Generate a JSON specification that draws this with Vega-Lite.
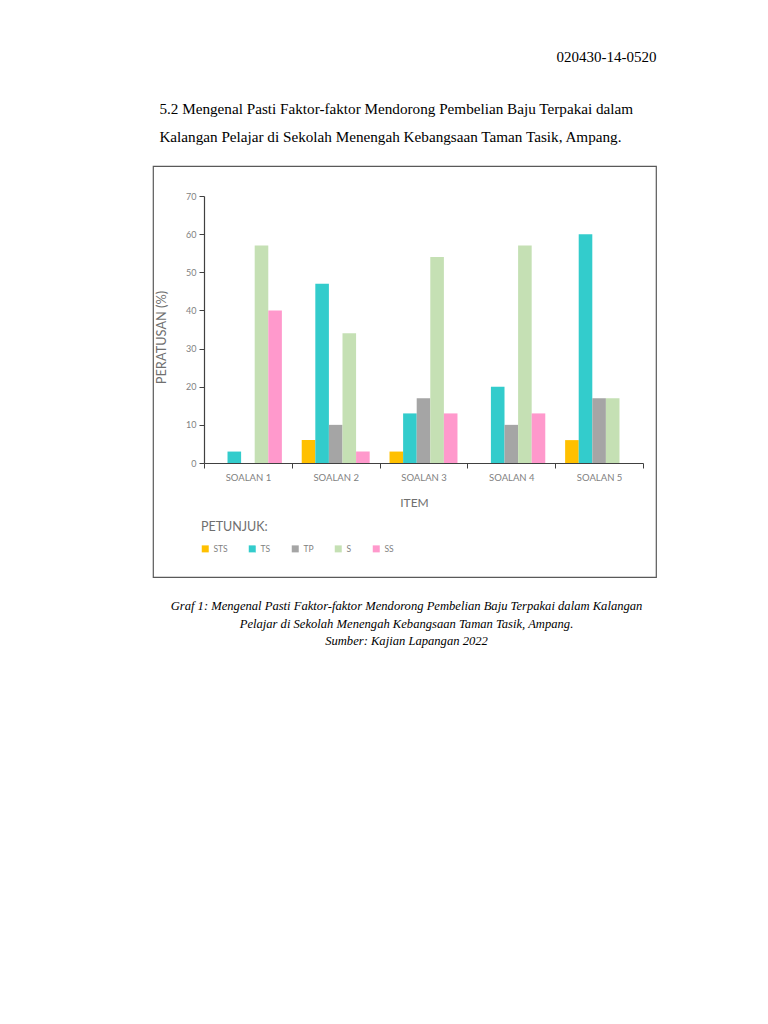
{
  "$schema": "https://vega.github.io/schema/vega-lite/v6.json",
  "background": "white",
  "padding": {"left": 152, "top": 50, "right": 0, "bottom": 0},
  "title": {
    "text": "020430-14-0520",
    "anchor": "end",
    "font": "Liberation Serif",
    "fontSize": 15,
    "fontWeight": "normal",
    "color": "#000000",
    "offset": 37
  },
  "config": {
    "font": "Lato",
    "view": {"stroke": null}
  },
  "vconcat": [
    {
      "title": {
        "text": [
          "5.2 Mengenal Pasti Faktor-faktor Mendorong Pembelian Baju Terpakai dalam",
          "Kalangan Pelajar di Sekolah Menengah Kebangsaan Taman Tasik, Ampang."
        ],
        "anchor": "start",
        "dx": 7,
        "font": "Liberation Serif",
        "fontSize": 15.2,
        "fontWeight": "normal",
        "color": "#000000",
        "lineHeight": 28,
        "offset": 20
      },
      "vconcat": [
        {
          "width": 503,
          "height": 411,
          "view": {"stroke": "#595959", "strokeWidth": 1.2},
          "title": {
            "text": [
              "Graf 1: Mengenal Pasti Faktor-faktor Mendorong Pembelian Baju Terpakai dalam Kalangan",
              "Pelajar di Sekolah Menengah Kebangsaan Taman Tasik, Ampang.",
              "Sumber: Kajian Lapangan 2022"
            ],
            "orient": "bottom",
            "anchor": "middle",
            "dx": 2,
            "font": "Liberation Serif",
            "fontSize": 12.6,
            "fontStyle": "italic",
            "fontWeight": "normal",
            "color": "#000000",
            "lineHeight": 17.5,
            "offset": 23
          },
          "data": {
            "values": [
              {"item": "SOALAN 1", "skala": "STS", "peratus": 0},
              {"item": "SOALAN 1", "skala": "TS", "peratus": 3},
              {"item": "SOALAN 1", "skala": "TP", "peratus": 0},
              {"item": "SOALAN 1", "skala": "S", "peratus": 57},
              {"item": "SOALAN 1", "skala": "SS", "peratus": 40},
              {"item": "SOALAN 2", "skala": "STS", "peratus": 6},
              {"item": "SOALAN 2", "skala": "TS", "peratus": 47},
              {"item": "SOALAN 2", "skala": "TP", "peratus": 10},
              {"item": "SOALAN 2", "skala": "S", "peratus": 34},
              {"item": "SOALAN 2", "skala": "SS", "peratus": 3},
              {"item": "SOALAN 3", "skala": "STS", "peratus": 3},
              {"item": "SOALAN 3", "skala": "TS", "peratus": 13},
              {"item": "SOALAN 3", "skala": "TP", "peratus": 17},
              {"item": "SOALAN 3", "skala": "S", "peratus": 54},
              {"item": "SOALAN 3", "skala": "SS", "peratus": 13},
              {"item": "SOALAN 4", "skala": "STS", "peratus": 0},
              {"item": "SOALAN 4", "skala": "TS", "peratus": 20},
              {"item": "SOALAN 4", "skala": "TP", "peratus": 10},
              {"item": "SOALAN 4", "skala": "S", "peratus": 57},
              {"item": "SOALAN 4", "skala": "SS", "peratus": 13},
              {"item": "SOALAN 5", "skala": "STS", "peratus": 6},
              {"item": "SOALAN 5", "skala": "TS", "peratus": 60},
              {"item": "SOALAN 5", "skala": "TP", "peratus": 17},
              {"item": "SOALAN 5", "skala": "S", "peratus": 17},
              {"item": "SOALAN 5", "skala": "SS", "peratus": 0}
            ]
          },
          "mark": {"type": "bar"},
          "encoding": {
            "x": {
              "field": "item",
              "type": "nominal",
              "scale": {"range": [51, 490], "paddingInner": 0, "paddingOuter": 0},
              "axis": {
                "title": "ITEM",
                "orient": "bottom",
                "offset": -114,
                "labelAngle": 0,
                "labelFont": "Lato",
                "labelFontSize": 9.5,
                "labelColor": "#7f7f7f",
                "labelPadding": 4,
                "tickBand": "extent",
                "tickSize": 5,
                "tickColor": "#404040",
                "domainColor": "#404040",
                "domainWidth": 1.2,
                "titleFont": "Lato",
                "titleFontSize": 12,
                "titleFontWeight": "normal",
                "titleColor": "#6f6f6f",
                "titleX": 261,
                "titleY": 39,
                "titleBaseline": "middle",
                "titleAlign": "center"
              }
            },
            "xOffset": {
              "field": "skala",
              "type": "nominal",
              "sort": ["STS", "TS", "TP", "S", "SS"],
              "scale": {"paddingInner": 0, "paddingOuter": 0.73}
            },
            "y": {
              "field": "peratus",
              "type": "quantitative",
              "scale": {"domain": [0, 70], "range": [297, 30], "nice": false},
              "axis": {
                "title": "PERATUSAN (%)",
                "orient": "left",
                "offset": -51,
                "values": [0, 10, 20, 30, 40, 50, 60, 70],
                "grid": false,
                "labelFont": "Lato",
                "labelFontSize": 9,
                "labelColor": "#7f7f7f",
                "labelPadding": 3,
                "tickSize": 5,
                "tickColor": "#404040",
                "domainColor": "#404040",
                "domainWidth": 1.2,
                "titleFont": "Lato",
                "titleFontSize": 12.8,
                "titleFontWeight": "normal",
                "titleColor": "#6f6f6f",
                "titleAngle": 270,
                "titleBaseline": "bottom",
                "titleAlign": "center",
                "titleX": -36,
                "titleY": 171
              }
            },
            "color": {
              "field": "skala",
              "type": "nominal",
              "sort": ["STS", "TS", "TP", "S", "SS"],
              "scale": {
                "domain": ["STS", "TS", "TP", "S", "SS"],
                "range": ["#FFC000", "#33CCCC", "#A5A5A5", "#C5E0B4", "#FF99CC"]
              },
              "legend": {
                "title": "PETUNJUK:",
                "orient": "none",
                "legendX": 48,
                "legendY": 355,
                "direction": "horizontal",
                "titleFont": "Lato",
                "titleFontSize": 12.5,
                "titleFontWeight": "normal",
                "titleColor": "#6f6f6f",
                "titlePadding": 11,
                "labelFont": "Lato",
                "labelFontSize": 8.5,
                "labelColor": "#7f7f7f",
                "labelOffset": 4,
                "symbolType": "square",
                "symbolSize": 49,
                "symbolStrokeWidth": 0,
                "columnPadding": 20
              }
            }
          }
        }
      ]
    }
  ]
}
